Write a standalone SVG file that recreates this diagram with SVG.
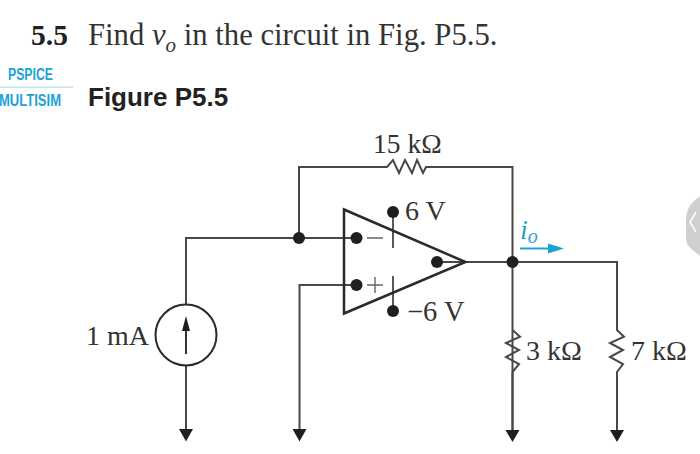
<svg xmlns="http://www.w3.org/2000/svg" width="700" height="454" viewBox="0 0 700 454">
<style>
text{font-family:"Liberation Serif","Times New Roman",serif;fill:#333}
.w{fill:none;stroke:#484848;stroke-width:2;stroke-linejoin:miter}
.d{fill:#1f1f1f}
.g{fill:#1f1f1f}
.v{font-size:28px}
.b{font-family:"Liberation Sans",Arial,sans-serif;font-weight:bold;font-size:16px}
text.b{fill:#1ba3d6}
text.dk{fill:#222}
text.io{fill:#2f9cc6}
</style>
<rect width="700" height="454" fill="#fff"/>
<path d="M700 196L694 201Q686 208 686 220V238Q686 246 694 251L700 256Z" fill="#cfcfcf"/>
<path d="M696 212L690 222L696 232" fill="none" stroke="#fff" stroke-width="1.6"/>
<g id="heading">
<text class="dk" x="31" y="45" font-size="29.500" font-weight="bold">5.5</text>
<text x="88" y="45" font-size="30.700">Find <tspan font-style="italic">v</tspan><tspan font-style="italic" font-size="21" dy="7">o</tspan><tspan dy="-7"> in the circuit in Fig. P5.5.</tspan></text>
<text class="b" x="8" y="80" textLength="45" lengthAdjust="spacingAndGlyphs">PSPICE</text>
<rect x="0" y="86.600" width="73" height="1" fill="#9fd4ea"/>
<text class="b" x="-1" y="106" textLength="62" lengthAdjust="spacingAndGlyphs">MULTISIM</text>
<text class="dk" x="88" y="106" font-size="26" font-weight="bold" style="font-family:'Liberation Sans',Arial,sans-serif">Figure P5.5</text>
</g>
<g id="connectors">
<path class="w" d="M186 304V238H344M356 238H344"/>
<path class="w" d="M299 238V167H387L393 160L399 173L405 160L412 173L417 160L423 173L426 167H512.500V430"/>
<path class="w" d="M356 285H299.500V431"/>
<path class="w" d="M437 262H617V330L624 336.700L610 343L623 350L610 357L623 364L617 372V431"/>
<path class="w" d="M512.500 330L520 336.700L506 343L519 350L506 357L519 364L512.500 372V431"/>
<path class="w" d="M186 366V431"/>
<path d="M393 212V248M393 276V311" fill="none" stroke="#484848" stroke-width="1.800"/>
<path d="M520 248.500H552" fill="none" stroke="#1ba3d6" stroke-width="2"/>
<path d="M548 243.500L564 248.500L548 253.500Z" fill="#1ba3d6"/>
<path class="g" d="M179 429H193L186 441.500Z"/>
<path class="g" d="M292.500 429H306.500L299.500 441.500Z"/>
<path class="g" d="M505.500 430H519.500L512.500 442Z"/>
<path class="g" d="M610 430H624L617 442Z"/>
</g>
<g id="current-source">
<circle cx="186" cy="335" r="30.500" fill="#fff" stroke="#2a2a2a" stroke-width="2"/>
<path d="M186 354V322" stroke="#333" stroke-width="2"/>
<path d="M182 331L186 316L190 331Z" fill="#1f1f1f"/>
<text class="v" x="86" y="345">1 mA</text>
</g>
<g id="opamp">
<path d="M344 209.500L465.500 262L344 313.500Z" fill="none" stroke="#2a2a2a" stroke-width="2.500"/>
<path d="M367 238H383M367 285H383M375 277V293" stroke="#666" stroke-width="1.400" fill="none"/>
<circle class="d" cx="356.500" cy="238" r="6"/>
<circle class="d" cx="356.500" cy="285" r="6"/>
<circle class="d" cx="437" cy="262" r="6"/>
<circle class="d" cx="393" cy="212" r="6"/>
<circle class="d" cx="393" cy="311" r="6"/>
<text class="v" x="405" y="220">6 V</text>
<text class="v" x="407" y="321" style="font-size:28.500px">−6 V</text>
</g>
<g id="junctions">
<circle class="d" cx="299" cy="238" r="6"/>
<circle class="d" cx="512.500" cy="262" r="6"/>
</g>
<g id="labels">
<text class="v" x="373" y="153" style="font-size:27.500px">15 kΩ</text>
<text class="v" x="526" y="360">3 kΩ</text>
<text class="v" x="631" y="360">7 kΩ</text>
<text class="io" x="520" y="239" font-size="28" font-style="italic">i<tspan font-size="20" dy="4">o</tspan></text>
</g>
</svg>
